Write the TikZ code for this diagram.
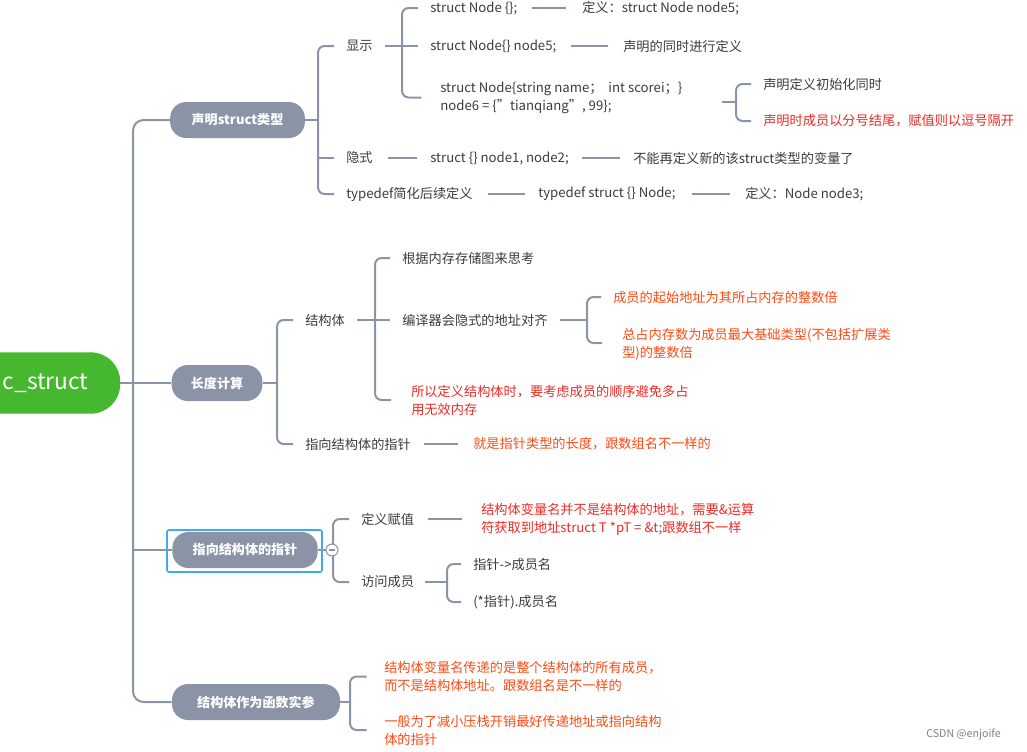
\documentclass[tikz,border=0pt]{standalone}
\usepackage{fontspec}
\setmainfont{Noto Sans CJK SC}
\usetikzlibrary{calc}
\definecolor{lc}{HTML}{8A94A6}
\definecolor{tc}{HTML}{3C3C3C}
\definecolor{rd}{HTML}{EE2A24}
\definecolor{og}{HTML}{FF4A12}
\definecolor{gr}{HTML}{45B82F}
\definecolor{sel}{HTML}{3FA9F5}
\tikzset{
  ln/.style={draw=lc,line width=1.5pt},
  br/.style={ln,rounded corners=5pt},
  txt/.style={anchor=west,inner sep=0pt,text=tc,font=\fontsize{9.9}{13.5}\selectfont,align=left},
  red/.style={txt,text=rd},
  org/.style={txt,text=og},
  mainn/.style={fill=lc,rounded corners=12pt,minimum height=27pt,inner sep=0pt,text=white,font=\fontsize{9.8}{12}\selectfont\bfseries},
}
\begin{document}
\begin{tikzpicture}[x=0.75pt,y=-0.75pt]
\useasboundingbox (0,0) rectangle (1027,751);
% root
\node[fill=gr,rounded corners=22pt,minimum width=112pt,minimum height=46pt,text=white,font=\fontsize{17}{20}\selectfont] (root) at (45.5,383) {c\_struct};
% main nodes
\node[mainn,minimum width=101pt] (n1) at (237.5,120) {声明struct类型};
\node[mainn,minimum width=68pt] (n2) at (217,383) {长度计算};
\node[mainn,minimum width=109pt] (n3) at (245,550) {指向结构体的指针};
\node[mainn,minimum width=126pt] (n4) at (256,702) {结构体作为函数实参};
\draw[draw=sel,line width=1.2pt,rounded corners=1.5pt] (167,530) rectangle (322,572);
% trunk
\coordinate (tr) at (133,0);
\draw[br,rounded corners=8pt] (n1.west) -- (n1.west -| tr) -- (n4.west -| tr) -- (n4.west);
\draw[ln] (root.east) -- (n2.west);
\draw[ln] (n3.west -| tr) -- (n3.west);

% ===== n1 =====
\node[txt] (xs) at (346,46) {显示};
\node[txt] (ys) at (346,158) {隐式};
\node[txt] (td) at (346,194) {typedef简化后续定义};
\coordinate (b1) at (318,0);
\draw[ln] (n1.east) -- (n1.east -| b1);
\draw[br] ([xshift=-9pt]xs.west) -- (xs.west -| b1) -- (td.west -| b1) -- ([xshift=-9pt]td.west);
\draw[ln] (ys.west -| b1) -- ([xshift=-9pt]ys.west);

\node[txt] (a1) at (430,8) {struct Node \{\};};
\node[txt] (a2) at (430,46) {struct Node\{\} node5;};
\node[txt] (a3) at (440,97.5) {struct Node\{string name；\ \ int scorei；\}\\node6 = \{\symbol{34}tianqiang\symbol{34}, 99\};};
\coordinate (b2) at (402,0);
\draw[ln] ([xshift=9pt]xs.east) -- (xs.east -| b2);
\draw[br] ([xshift=-9pt]a1.west) -- (a1.west -| b2) -- (a3.west -| b2) -- ([xshift=-14pt]a3.west);
\draw[ln] (a2.west -| b2) -- ([xshift=-9pt]a2.west);

\node[txt] (a1b) at (582,8) {定义：struct Node node5;};
\draw[ln] ([xshift=11pt]a1.east) -- ([xshift=-12pt]a1b.west);
\node[txt] (a2b) at (623,46) {声明的同时进行定义};
\draw[ln] ([xshift=11pt]a2.east) -- ([xshift=-11pt]a2b.west);

\node[txt] (c1) at (763,84) {声明定义初始化同时};
\node[red] (c2) at (763,121) {声明时成员以分号结尾，赋值则以逗号隔开};
\coordinate (b3) at (736,0);
\draw[ln] (722,102) -- (b3 |- 0,102);
\draw[br] ([xshift=-9pt]c1.west) -- (c1.west -| b3) -- (c2.west -| b3) -- ([xshift=-9pt]c2.west);

\node[txt] (ysb) at (430,158) {struct \{\} node1, node2;};
\draw[ln] ([xshift=11pt]ys.east) -- ([xshift=-10pt]ysb.west);
\node[txt] (ysc) at (633,158) {不能再定义新的该struct类型的变量了};
\draw[ln] ([xshift=10pt]ysb.east) -- ([xshift=-10pt]ysc.west);

\node[txt] (tdb) at (538,194) {typedef struct \{\} Node;};
\draw[ln] ([xshift=11pt]td.east) -- ([xshift=-10pt]tdb.west);
\node[txt] (tdc) at (745,194) {定义：Node node3;};
\draw[ln] ([xshift=12pt]tdb.east) -- ([xshift=-11pt]tdc.west);

% ===== n2 =====
\node[txt] (jg) at (305,320) {结构体};
\node[txt] (zz) at (305,444) {指向结构体的指针};
\coordinate (b4) at (277,0);
\draw[ln] (n2.east) -- (n2.east -| b4);
\draw[br] ([xshift=-9pt]jg.west) -- (jg.west -| b4) -- (zz.west -| b4) -- ([xshift=-9pt]zz.west);

\node[txt] (g1) at (402,258) {根据内存存储图来思考};
\node[txt] (g2) at (402,320) {编译器会隐式的地址对齐};
\node[red] (g3) at (411,400) {所以定义结构体时，要考虑成员的顺序避免多占\\用无效内存};
\coordinate (b5) at (375,0);
\draw[ln] ([xshift=9pt]jg.east) -- (jg.east -| b5);
\draw[br] ([xshift=-9pt]g1.west) -- (g1.west -| b5) -- (g3.west -| b5) -- ([xshift=-15pt]g3.west);
\draw[ln] (g2.west -| b5) -- ([xshift=-9pt]g2.west);

\node[org] (h1) at (613,297) {成员的起始地址为其所占内存的整数倍};
\node[org] (h2) at (622,344) {总占内存数为成员最大基础类型(不包括扩展类\\型)的整数倍};
\coordinate (b6) at (587,0);
\draw[ln] ([xshift=9pt]g2.east) -- (g2.east -| b6);
\draw[br] ([xshift=-9pt]h1.west) -- (h1.west -| b6) -- (b6 |- 0,343) -- (602,343);

\node[org] (zzb) at (473,444) {就是指针类型的长度，跟数组名不一样的};
\draw[ln] ([xshift=10pt]zz.east) -- ([xshift=-11pt]zzb.west);

% ===== n3 =====
\node[txt] (dy) at (361,519) {定义赋值};
\node[txt] (fw) at (361,582) {访问成员};
\coordinate (b7) at (333,0);
\draw[br] ([xshift=-9pt]dy.west) -- (dy.west -| b7) -- (fw.west -| b7) -- ([xshift=-9pt]fw.west);
\draw[ln] (n3.east) -- (326,550);
\node[circle,draw=lc,fill=white,line width=0.8pt,minimum size=9pt,inner sep=0pt] (cc) at (332,550) {};
\draw[lc,line width=0.8pt] ([xshift=-2.5pt]cc.center) -- ([xshift=2.5pt]cc.center);

\node[red] (dyb) at (481,519) {结构体变量名并不是结构体的地址，需要\&运算\\符获取到地址struct T *pT = \&t;跟数组不一样};
\draw[ln] ([xshift=10pt]dy.east) -- ([xshift=-14pt]dyb.west);

\node[txt] (f1) at (473,564) {指针->成员名};
\node[txt] (f2) at (473,602) {(*指针).成员名};
\coordinate (b8) at (447,0);
\draw[ln] ([xshift=8pt]fw.east) -- (fw.east -| b8);
\draw[br] ([xshift=-9pt]f1.west) -- (f1.west -| b8) -- (f2.west -| b8) -- ([xshift=-9pt]f2.west);

% ===== n4 =====
\node[org] (k1) at (384,676.5) {结构体变量名传递的是整个结构体的所有成员，\\而不是结构体地址。跟数组名是不一样的};
\node[org] (k2) at (384,730) {一般为了减小压栈开销最好传递地址或指向结构\\体的指针};
\coordinate (b9) at (350,0);
\draw[ln] (n4.east) -- (n4.east -| b9);
\draw[br] ([xshift=-13pt]k1.west) -- (k1.west -| b9) -- (k2.west -| b9) -- ([xshift=-13pt]k2.west);

\node[anchor=west,inner sep=0pt,text=gray,font=\fontsize{8}{10}\selectfont] (wm) at (926,734) {CSDN @enjoife};
\end{tikzpicture}
\end{document}
